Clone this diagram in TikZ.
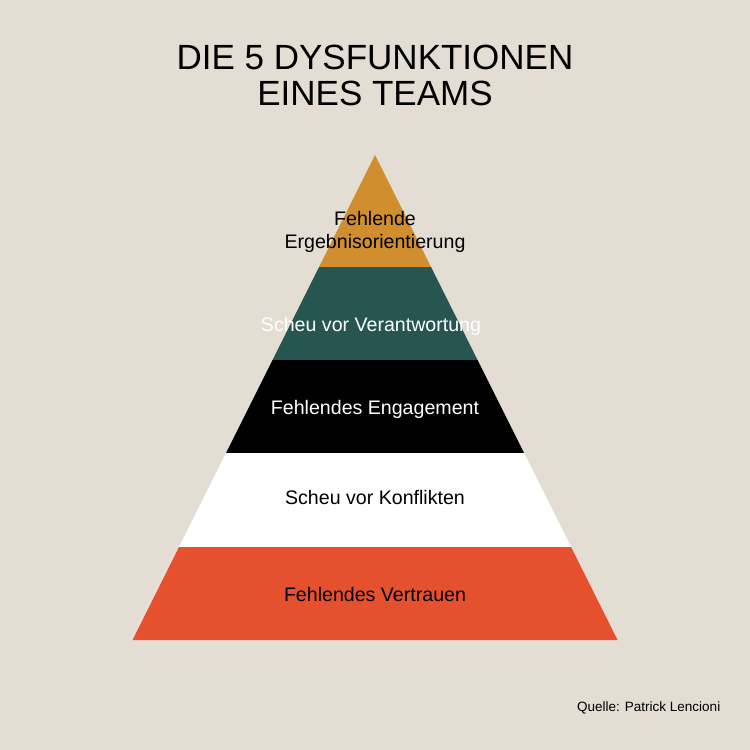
\documentclass[tikz,border=0pt]{standalone}
\usepackage{fontspec}
\setmainfont{Liberation Sans}
\definecolor{bgc}{HTML}{E3DDD3}
\definecolor{c1}{HTML}{D08E2F}
\definecolor{c2}{HTML}{275650}
\definecolor{c3}{HTML}{000000}
\definecolor{c4}{HTML}{FFFFFF}
\definecolor{c5}{HTML}{E5512E}
\begin{document}
\begin{tikzpicture}[x=1pt,y=-1pt,
  lbl/.style={font=\fontsize{19.6}{23}\selectfont, align=center, inner sep=0pt},
  ttl/.style={font=\fontsize{35}{36}\selectfont, align=center, inner sep=0pt}]
\fill[bgc] (0,0) rectangle (750,750);
\useasboundingbox (0,0) rectangle (750,750);
\fill[c1] (375,155) -- (431,267) -- (319,267) -- cycle;
\fill[c2] (319,267) -- (431,267) -- (477.5,360) -- (272.5,360) -- cycle;
\fill[c3] (272.5,360) -- (477.5,360) -- (524,453) -- (226,453) -- cycle;
\fill[c4] (226,453) -- (524,453) -- (571,547) -- (179,547) -- cycle;
\fill[c5] (179,547) -- (571,547) -- (617.5,640) -- (132.5,640) -- cycle;
\node[ttl] (title) at (375,75) {DIE 5 DYSFUNKTIONEN\\EINES TEAMS};
\node[lbl, text=black] (l1) at (375,232) {Fehlende\\Ergebnisorientierung};
\node[lbl, text=white] (l2) at (371,326) {Scheu vor Verantwortung};
\node[lbl, text=white] (l3) at (375,409) {Fehlendes Engagement};
\node[lbl, text=black] (l4) at (375,497) {Scheu vor Konflikten};
\node[lbl, text=black] (l5) at (375,594) {Fehlendes Vertrauen};
\node[font=\fontsize{13.5}{15}\selectfont, inner sep=0pt, anchor=base west] (src) at (577,711) {Quelle: Patrick Lencioni};
\end{tikzpicture}
\end{document}
